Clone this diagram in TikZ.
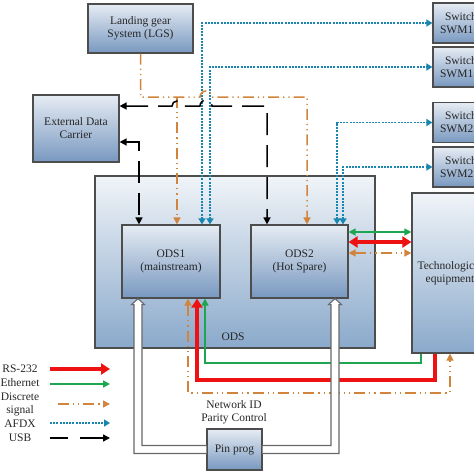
\documentclass[tikz,border=0pt]{standalone}
\usepackage{fontspec}
\setmainfont{Liberation Serif}
\usetikzlibrary{arrows.meta,calc}
\definecolor{bordc}{HTML}{4D4D4D}
\definecolor{boxtop}{HTML}{E6ECF3}
\definecolor{boxbot}{HTML}{7898C0}
\definecolor{odstop}{HTML}{F0F4F8}
\definecolor{odsbot}{HTML}{8AA9CB}
\definecolor{orng}{HTML}{D2843C}
\definecolor{afdxc}{HTML}{1A86B0}
\definecolor{rsred}{HTML}{EE1111}
\definecolor{ethg}{HTML}{1EA550}
\begin{document}
\begin{tikzpicture}[x=1pt,y=-1pt,
  font=\fontsize{11.5}{13}\selectfont,
  box/.style={draw=bordc, line width=1.2pt, top color=boxtop, bottom color=boxbot, inner sep=0pt, align=center, text=black!85},
  bigbox/.style={draw=bordc, line width=1.2pt, top color=odstop, bottom color=odsbot, inner sep=0pt, align=center, text=black!85},
  lbl/.style={align=center, inner sep=0pt, text=black!85},
  rs/.style={rsred, line width=3.5pt, >={Triangle[length=9pt,width=11pt]}},
  eth/.style={ethg, line width=1.4pt, >={Triangle[length=7pt,width=7pt]}},
  disc/.style={orng, line width=1.5pt, dash pattern=on 11pt off 4pt on 1.2pt off 4pt on 1.2pt off 4pt, >={Triangle[length=7pt,width=7pt]}},
  afdx/.style={afdxc, line width=1.7pt, dash pattern=on 2pt off 1.2pt, >={Triangle[length=6pt,width=7pt]}},
  usb/.style={black, line width=1.5pt, dash pattern=on 22pt off 10pt, >={Triangle[length=7pt,width=7pt]}},
  hol/.style={draw=bordc!85, line width=1.1pt, fill=white, line join=miter}
]
\useasboundingbox (0,0) rectangle (474,474);
\clip (0,0) rectangle (474,474);

% boxes
\node[box, minimum width=105pt, minimum height=49pt] (lgs) at (140.5,28.5) {Landing gear\\System (LGS)};
\node[box, minimum width=86pt, minimum height=67pt] (edc) at (76,128.5) {External Data\\Carrier};
\node[bigbox, minimum width=280pt, minimum height=172pt] (ods) at (235,262) {};
\node[lbl] (odslbl) at (233,337) {ODS};
\node[box, minimum width=98pt, minimum height=73pt] (ods1) at (171,261.5) {ODS1\\(mainstream)};
\node[box, minimum width=97pt, minimum height=73pt] (ods2) at (299.5,261.5) {ODS2\\(Hot Spare)};
\node[bigbox, minimum width=76pt, minimum height=160pt] (tech) at (450,273) {Technological\\equipment};
\node[box, minimum width=56pt, minimum height=40pt] (sw1) at (461,23) {Switch\\SWM1.1};
\node[box, minimum width=56pt, minimum height=40pt] (sw2) at (461,67) {Switch\\SWM1.2};
\node[box, minimum width=56pt, minimum height=40pt] (sw3) at (461,122.5) {Switch\\SWM2.1};
\node[box, minimum width=56pt, minimum height=40pt] (sw4) at (461,167) {Switch\\SWM2.2};
\node[box, minimum width=55pt, minimum height=41pt] (pin) at (234.5,449.5) {Pin prog};
\node[lbl] (netid) at (234,412) {Network ID\\Parity Control};

% helper coordinates
\coordinate (xo1) at (177,0);
\coordinate (xb1) at (202,0);
\coordinate (xb2) at (210,0);
\coordinate (xo2) at (307,0);
\coordinate (xu2) at (267,0);
\coordinate (xb3) at (337,0);
\coordinate (xb4) at (343,0);
\coordinate (xu1) at (139,0);
\coordinate (xh1) at (138,0);
\coordinate (xh2) at (335,0);
\coordinate (xrd) at (197,0);
\coordinate (xgr) at (205,0);
\coordinate (xor) at (188,0);
\coordinate (xrd2) at (435,0);
\coordinate (xgr2) at (421,0);
\coordinate (xor2) at (450,0);
\coordinate (yl) at (0,97);
\coordinate (yu1) at (0,106);
\coordinate (yu2) at (0,142);
\coordinate (yrd) at (0,380);
\coordinate (ygr) at (0,363);
\coordinate (yor) at (0,393);
\coordinate (ye) at (0,232);
\coordinate (yr) at (0,242);
\coordinate (yo) at (0,253);

% AFDX
\draw[afdx,<->] (xb1 |- ods1.north) |- (sw1.west);
\draw[afdx,<->] (xb2 |- ods1.north) |- (sw2.west);
\draw[afdx,<->] (xb3 |- ods2.north) |- (sw3.west);
\draw[afdx,<->] (xb4 |- ods2.north) |- (sw4.west);

% Discrete from LGS
\draw[disc,->] (lgs.south) -- (lgs.south |- yl) -- (200,97) arc[start angle=180,end angle=360,radius=6] -- (xo2 |- yl) -- (xo2 |- ods2.north);
\draw[disc,->] (xo1 |- yl) -- (xo1 |- ods1.north);

% USB
\draw[usb,<->] (edc.east |- yu1) -- (172,106) arc[start angle=180,end angle=360,radius=5] -- (200,106) arc[start angle=180,end angle=360,radius=6] -- (xu2 |- yu1) -- (xu2 |- ods2.north);
\draw[usb,<->] (edc.east |- yu2) -| (xu1 |- ods1.north);

% ODS2 <-> Tech
\draw[eth,<->] (ods2.east |- ye) -- (tech.west |- ye);
\draw[rs,<->] (ods2.east |- yr) -- (tech.west |- yr);
\draw[disc,<->] (ods2.east |- yo) -- (tech.west |- yo);

% bottom loops
\draw[disc,<->] (xor |- ods1.south) |- (xor2 |- yor) -- (xor2 |- tech.south);
\draw[rs,<-] (xrd |- ods1.south) |- (xrd2 |- yrd) -- (xrd2 |- tech.south);
\draw[eth,<-] (xgr |- ods1.south) |- (xgr2 |- ygr) -- (xgr2 |- tech.south);

% pin prog hollow arrows
\coordinate (ha) at (xh1 |- ods1.south);
\coordinate (hb) at (xh2 |- ods2.south);
\draw[hol] ($(pin.west)+(0,-4)$) -- ($(xh1 |- pin.west)+(4,-4)$) -- ($(ha)+(4,6)$) -- ($(ha)+(6.5,6)$) -- (ha) -- ($(ha)+(-6.5,6)$) -- ($(ha)+(-4,6)$) -- ($(xh1 |- pin.west)+(-4,4)$) -- ($(pin.west)+(0,4)$);
\draw[hol] ($(pin.east)+(0,-4)$) -- ($(xh2 |- pin.east)+(-4,-4)$) -- ($(hb)+(-4,6)$) -- ($(hb)+(-6.5,6)$) -- (hb) -- ($(hb)+(6.5,6)$) -- ($(hb)+(4,6)$) -- ($(xh2 |- pin.east)+(4,4)$) -- ($(pin.east)+(0,4)$);

% legend
\node[lbl] (l1) at (20,369) {RS-232};
\node[lbl] (l2) at (20,383) {Ethernet};
\node[lbl] (l3) at (20,404) {Discrete\\signal};
\node[lbl] (l4) at (20,424) {AFDX};
\node[lbl] (l5) at (20,438) {USB};
\coordinate (a1s) at (50,369); \coordinate (a1e) at (110,369);
\coordinate (a2s) at (50,384); \coordinate (a2e) at (110,384);
\coordinate (a3s) at (58,404); \coordinate (a3e) at (110,404);
\coordinate (a4s) at (50,423); \coordinate (a4e) at (110,423);
\coordinate (a5s) at (50,438); \coordinate (a5e) at (110,438);
\draw[rs,->] (a1s) -- (a1e);
\draw[eth,->] (a2s) -- (a2e);
\draw[disc,->] (a3s) -- (a3e);
\draw[afdx,->] (a4s) -- (a4e);
\draw[usb,dash pattern=on 18pt off 12pt on 40pt off 0pt,->] (a5s) -- (a5e);
\end{tikzpicture}
\end{document}
